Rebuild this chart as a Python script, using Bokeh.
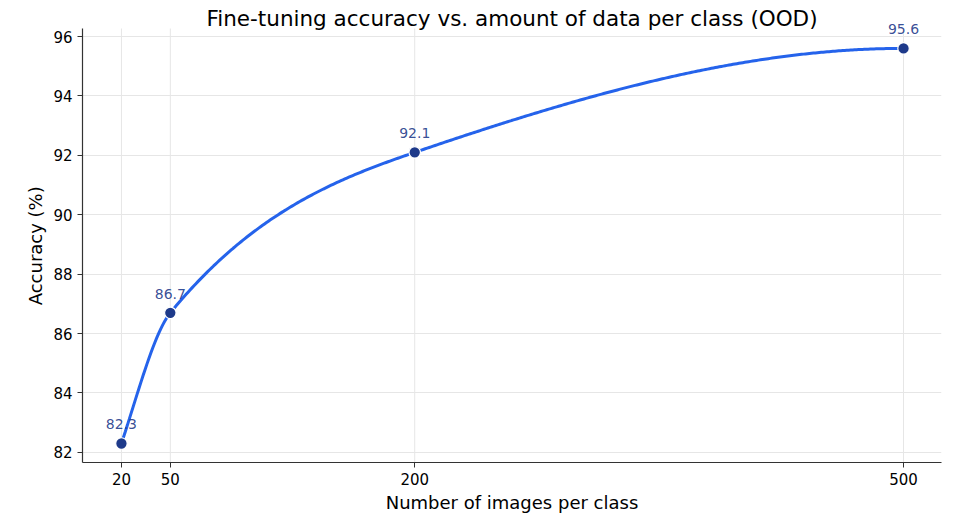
import numpy as np
from bokeh.plotting import figure
from bokeh.models import ColumnDataSource, LabelSet, Label, FixedTicker, Range1d
from bokeh.core.properties import value
from bokeh.embed import file_html
from bokeh.resources import INLINE

images_per_class = [20, 50, 200, 500]
accuracy = [82.3, 86.7, 92.1, 95.6]
point_labels = ["82.3", "86.7", "92.1", "95.6"]
y_ticks = [82, 84, 86, 88, 90, 92, 94, 96]
title_text = "Fine-tuning accuracy vs. amount of data per class (OOD)"


def pchip(xs, ys, xq):
    xs = np.asarray(xs, float); ys = np.asarray(ys, float)
    h = np.diff(xs); d = np.diff(ys) / h
    n = len(xs); m = np.zeros(n)
    for k in range(1, n - 1):
        if d[k - 1] * d[k] > 0:
            w1 = 2 * h[k] + h[k - 1]; w2 = h[k] + 2 * h[k - 1]
            m[k] = (w1 + w2) / (w1 / d[k - 1] + w2 / d[k])
    def end(h0, h1, d0, d1):
        v = ((2 * h0 + h1) * d0 - h0 * d1) / (h0 + h1)
        if np.sign(v) != np.sign(d0):
            v = 0.0
        elif np.sign(d0) != np.sign(d1) and abs(v) > abs(3 * d0):
            v = 3 * d0
        return v
    m[0] = end(h[0], h[1], d[0], d[1])
    m[-1] = end(h[-1], h[-2], d[-1], d[-2])
    out = np.empty_like(xq)
    for i, x in enumerate(xq):
        k = min(max(np.searchsorted(xs, x) - 1, 0), n - 2)
        t = (x - xs[k]) / h[k]
        h00 = 2 * t**3 - 3 * t**2 + 1; h10 = t**3 - 2 * t**2 + t
        h01 = -2 * t**3 + 3 * t**2; h11 = t**3 - t**2
        out[i] = h00 * ys[k] + h10 * h[k] * m[k] + h01 * ys[k + 1] + h11 * h[k] * m[k + 1]
    return out


xs_smooth = np.linspace(images_per_class[0], images_per_class[-1], 400)
ys_smooth = pchip(images_per_class, accuracy, xs_smooth)

# axes box limits (the visible spine region), plus headroom above for title/labels
x0, x1 = -3.9, 523.3
y0, y_axes_top = 81.66, 96.27
px_per_unit = 434 / (y_axes_top - y0)
y_canvas_top = y_axes_top + 28 / px_per_unit
y_title = y_axes_top + (28 - 18) / px_per_unit

p = figure(width=956, height=522, output_backend="svg", toolbar_location=None,
           x_range=Range1d(x0, x1), y_range=Range1d(y0, y_canvas_top),
           min_border_left=82, min_border_right=15, min_border_top=0, min_border_bottom=60)
p.outline_line_color = None

# vertical grid lines limited to the axes box
n = len(images_per_class)
p.segment(x0=images_per_class, y0=[y0] * n, x1=images_per_class, y1=[y_axes_top] * n,
          line_color="#e6e6e6", line_width=1, level="underlay")

p.line(xs_smooth, ys_smooth, line_color="#2563eb", line_width=3)
src = ColumnDataSource(dict(x=images_per_class, y=accuracy, t=point_labels))
p.scatter("x", "y", source=src, size=11.5, fill_color="#1e3a8a", line_color="white", line_width=1.2)
p.add_layout(LabelSet(x="x", y="y", text="t", source=src, y_offset=14, text_align="center",
                      text_baseline="bottom", text_color="#1e3a8a", text_alpha=0.9,
                      text_font_size="14px", text_font=value("DejaVu Sans")))

p.add_layout(Label(x=(x0 + x1) / 2, y=y_title, text=title_text, text_align="center",
                   text_baseline="alphabetic", text_font_size="21.5px", text_font="DejaVu Sans",
                   text_color="black"))

p.xaxis.ticker = FixedTicker(ticks=images_per_class)
p.yaxis.ticker = FixedTicker(ticks=y_ticks)
p.yaxis.bounds = (y0, y_axes_top)
p.xaxis.axis_label = "Number of images per class"
# trailing no-break spaces keep the label centred on the axes box rather than the taller frame
p.yaxis.axis_label = "Accuracy (%)" + "\u00a0" * 5
for ax in (p.xaxis[0], p.yaxis[0]):
    ax.axis_label_text_font = "DejaVu Sans"
    ax.axis_label_text_font_size = "18px"
    ax.axis_label_text_font_style = "normal"
    ax.axis_label_text_color = "black"
    ax.major_label_text_font = "DejaVu Sans"
    ax.major_label_text_font_size = "15px"
    ax.major_label_text_color = "black"
    ax.axis_line_color = "#333333"
    ax.axis_line_width = 1.2
    ax.major_tick_line_color = "#333333"
    ax.major_tick_out = 5
    ax.major_tick_in = 0
    ax.minor_tick_line_color = None
    ax.major_label_standoff = 5
    ax.axis_label_standoff = 4
p.xgrid.grid_line_color = None
p.ygrid.grid_line_color = "#e6e6e6"
p.ygrid.grid_line_width = 1

open("out.html", "w").write(file_html(p, INLINE))
